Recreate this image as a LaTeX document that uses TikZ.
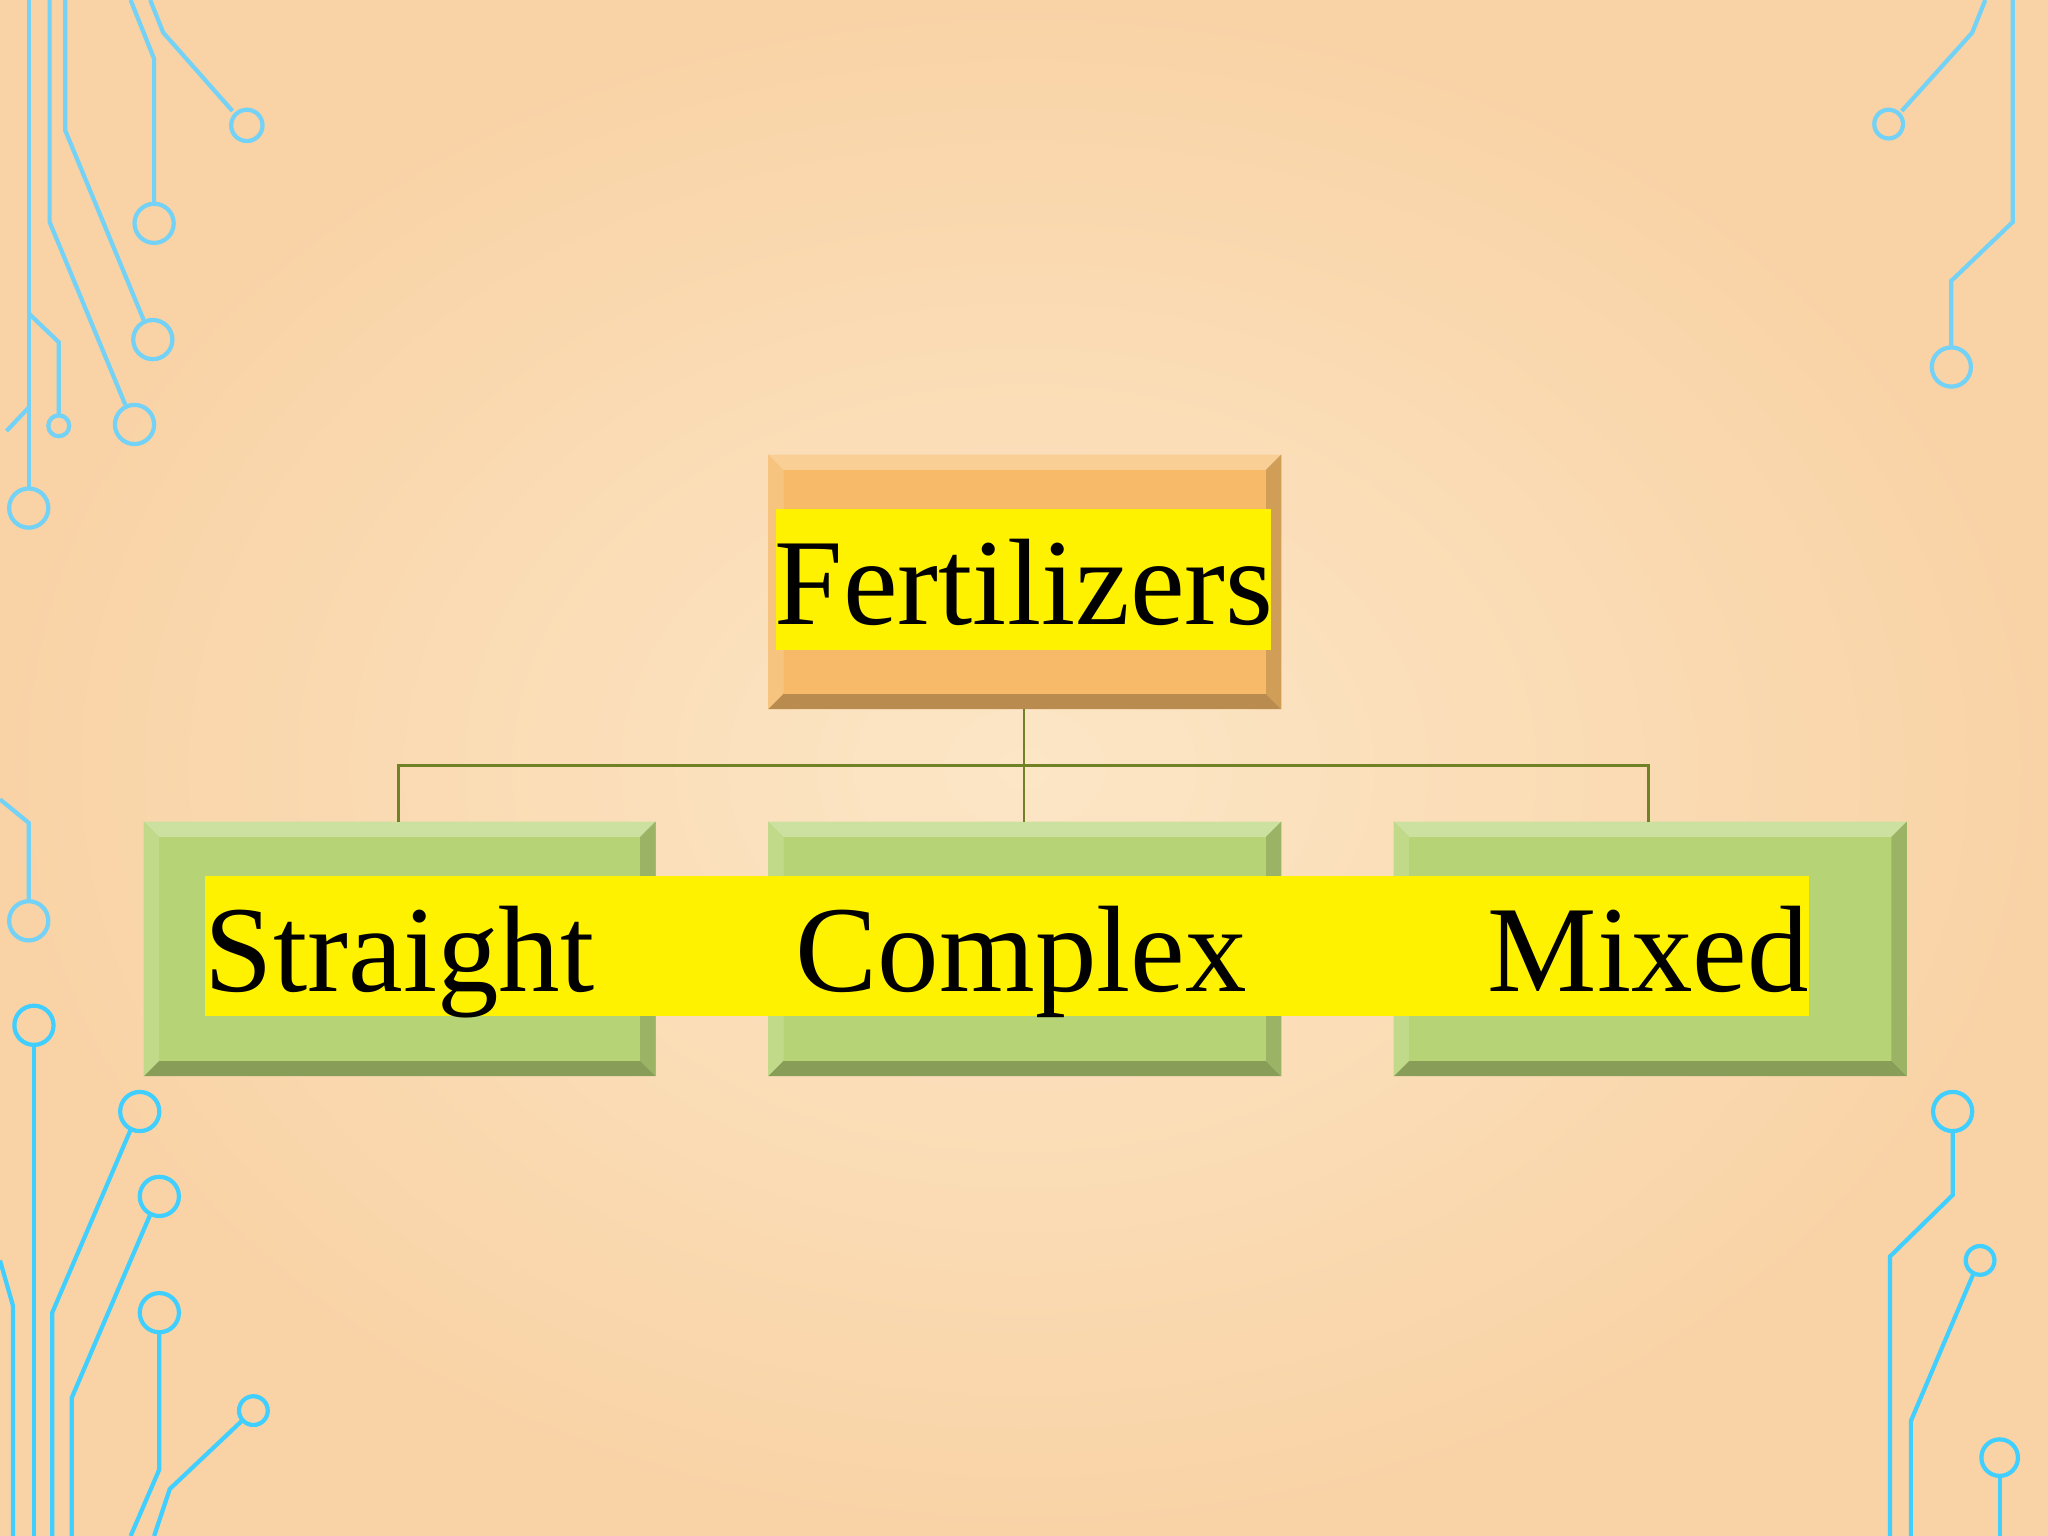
\documentclass[tikz,border=0pt]{standalone}
\usepackage{fontspec}
\setmainfont{Liberation Serif}
\begin{document}
\begin{tikzpicture}[x=0.013061cm,y=-0.013061cm,
  cyanl/.style={draw=cyan!55!white, line width=1.2pt},
  bluel/.style={draw=blue!25!cyan!75!white, line width=1.2pt},
  link/.style={draw=olive!70!green!80!black, line width=0.8pt},
  lbl/.style={font=\fontsize{35}{40}\selectfont, inner sep=0pt, anchor=base}]
\useasboundingbox (0,0) rectangle (1568,1176);
\definecolor{bgin}{HTML}{FCE6C6}\definecolor{bgout}{HTML}{F9D3A6}
\shade[inner color=bgin, outer color=bgout] (0,0) rectangle (1568,1176);
\definecolor{org}{HTML}{F6BA68}\definecolor{grn}{HTML}{B6D376}
\foreach \a/\b/\c/\d/\col in {588/348/981/543/org,110/629/502/824/grn,588/629/981/824/grn,1067/629/1460/824/grn}{
  \fill[\col!80!black!60!white] (\a,\b) rectangle (\c,\d);
  \fill[\col!70!white] (\a,\b) -- (\c,\b) -- (\c-12,\b+12) -- (\a+12,\b+12) -- cycle;
  \fill[\col!75!black] (\a,\d) -- (\c,\d) -- (\c-12,\d-12) -- (\a+12,\d-12) -- cycle;
  \fill[\col!85!black] (\c,\b) -- (\c,\d) -- (\c-12,\d-12) -- (\c-12,\b+12) -- cycle;
  \fill[\col!85!white] (\a,\b) -- (\a,\d) -- (\a+12,\d-12) -- (\a+12,\b+12) -- cycle;
  \fill[\col] (\a+12,\b+12) rectangle (\c-12,\d-12);
}
\fill[yellow] (594,390) rectangle (973,498);
\fill[yellow] (157,671) rectangle (1385,778);
\node[lbl] (f) at (784,478) {Fertilizers};
\node[lbl] (s) at (306,759) {Straight};
\node[lbl] (c) at (782,759) {Complex};
\node[lbl] (m) at (1262,759) {Mixed};
\coordinate (ft) at (784,543); \coordinate (j) at (784,586);
\draw[link] (ft) -- (j);
\draw[link] (305,629) -- (305,586) -- (1262,586) -- (1262,629);
\draw[link] (j) -- (784,629);
\draw[cyanl] (22,0) -- (22,374); \draw[cyanl] (22,389) circle (15);
\draw[cyanl] (5,330) -- (22,312);
\draw[cyanl] (38,0) -- (38,170) -- (96,310); \draw[cyanl] (103,325) circle (15);
\draw[cyanl] (50,0) -- (50,100) -- (110,245); \draw[cyanl] (117,260) circle (15);
\draw[cyanl] (22,240) -- (45,262) -- (45,318); \draw[cyanl] (45,326) circle (8);
\draw[cyanl] (100,0) -- (118,45) -- (118,156); \draw[cyanl] (118,171) circle (15);
\draw[cyanl] (115,0) -- (125,25) -- (178,85); \draw[cyanl] (189,96) circle (12);
\draw[cyanl] (1520,0) -- (1510,25) -- (1456,85); \draw[cyanl] (1446,95) circle (11);
\draw[cyanl] (1541,0) -- (1541,170) -- (1494,215) -- (1494,266); \draw[cyanl] (1494,281) circle (15);
\draw[cyanl] (0,612) -- (22,630) -- (22,690); \draw[cyanl] (22,705) circle (15);
\draw[bluel] (26,800) -- (26,1176); \draw[bluel] (26,785) circle (15);
\draw[bluel] (0,965) -- (10,1000) -- (10,1176);
\draw[bluel] (40,1176) -- (40,1005) -- (100,865); \draw[bluel] (107,851) circle (15);
\draw[bluel] (55,1176) -- (55,1070) -- (115,930); \draw[bluel] (122,916) circle (15);
\draw[bluel] (100,1176) -- (122,1125) -- (122,1020); \draw[bluel] (122,1005) circle (15);
\draw[bluel] (118,1176) -- (130,1140) -- (185,1088); \draw[bluel] (194,1080) circle (11);
\draw[bluel] (1495,866) -- (1495,915) -- (1447,962) -- (1447,1176); \draw[bluel] (1495,851) circle (15);
\draw[bluel] (1463,1176) -- (1463,1088) -- (1511,975); \draw[bluel] (1516,965) circle (11);
\draw[bluel] (1531,1130) -- (1531,1176); \draw[bluel] (1531,1116) circle (14);
\end{tikzpicture}
\end{document}
